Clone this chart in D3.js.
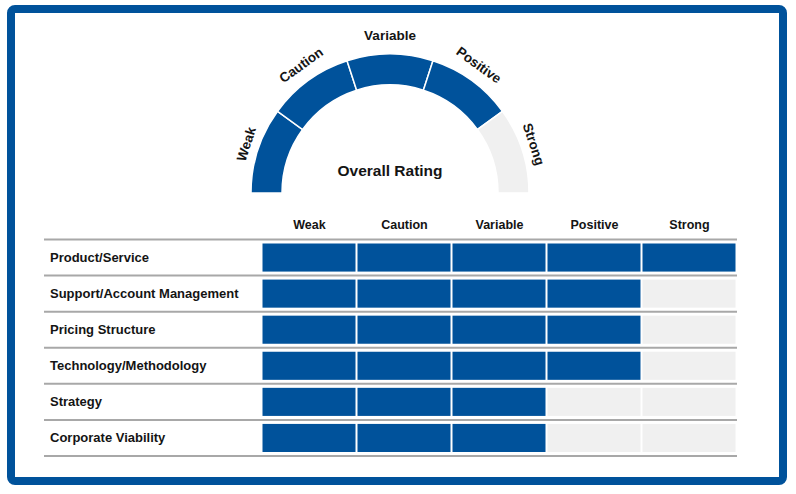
<!DOCTYPE html>
<html>
<head>
<meta charset="utf-8">
<script src="https://cdn.jsdelivr.net/npm/d3@7"></script>
<style>
  html, body { margin: 0; padding: 0; background: #ffffff; }
  svg { display: block; }
  text { font-family: "Liberation Sans", Arial, Helvetica, sans-serif; fill: #141414; }
</style>
</head>
<body>
<svg id="chart" width="796" height="494"></svg>
<script>
const levels = ["Weak", "Caution", "Variable", "Positive", "Strong"];
const categories = ["Product/Service", "Support/Account Management", "Pricing Structure", "Technology/Methodology", "Strategy", "Corporate Viability"];
const ratings = [5, 4, 4, 4, 3, 3];
const overallRating = 4;
const overallTitle = "Overall Rating";

const BLUE = "#00529b";
const GREY = "#f0f0f0";

const svg = d3.select("#chart");

// frame
svg.append("rect")
  .attr("x", 11).attr("y", 9).attr("width", 772).attr("height", 472)
  .attr("rx", 4).attr("ry", 4)
  .attr("fill", "#ffffff").attr("stroke", BLUE).attr("stroke-width", 8);

// ---- gauge ----
const cx = 390, cy = 193, rIn = 108, rOut = 139;
const angle = d3.scaleBand().domain(levels).range([-Math.PI / 2, Math.PI / 2]);
const arc = d3.arc().innerRadius(rIn).outerRadius(rOut);
const g = svg.append("g").attr("transform", `translate(${cx},${cy})`);

g.selectAll("path.seg").data(levels).join("path")
  .attr("class", "seg")
  .attr("d", d => arc({ startAngle: angle(d), endAngle: angle(d) + angle.bandwidth() }))
  .attr("fill", (d, i) => (i + 1) <= overallRating ? BLUE : GREY)
  .attr("stroke", "#ffffff").attr("stroke-width", 1.5);

const rLabX = 151, rLabY = 158;
g.selectAll("text.glab").data(levels).join("text")
  .attr("class", "glab")
  .attr("transform", d => {
    const th = angle(d) + angle.bandwidth() / 2;
    const x = rLabX * Math.sin(th), y = -rLabY * Math.cos(th);
    return `translate(${x},${y}) rotate(${th * 180 / Math.PI})`;
  })
  .attr("text-anchor", "middle").attr("dominant-baseline", "central")
  .attr("font-size", 13.5).attr("font-weight", "bold")
  .text(d => d);

g.append("text")
  .attr("x", 0).attr("y", -23)
  .attr("text-anchor", "middle").attr("dominant-baseline", "central")
  .attr("font-size", 15.5).attr("font-weight", "bold")
  .text(overallTitle);

// ---- table ----
const x = d3.scaleBand().domain(levels).range([262, 737]);
const y = d3.scaleBand().domain(categories).range([239.5, 456]);

svg.selectAll("text.colhead").data(levels).join("text")
  .attr("class", "colhead")
  .attr("x", d => x(d) + x.bandwidth() / 2).attr("y", 225)
  .attr("text-anchor", "middle").attr("dominant-baseline", "central")
  .attr("font-size", 12.5).attr("font-weight", "bold")
  .text(d => d);

const rows = svg.selectAll("g.row").data(categories).join("g")
  .attr("class", "row")
  .attr("transform", d => `translate(0,${y(d)})`);

rows.append("text")
  .attr("x", 50).attr("y", y.bandwidth() / 2)
  .attr("dominant-baseline", "central")
  .attr("font-size", 13).attr("font-weight", "bold")
  .text(d => d);

rows.each(function (c, ri) {
  d3.select(this).selectAll("rect.cell").data(levels).join("rect")
    .attr("class", "cell")
    .attr("x", d => x(d) + 0.5).attr("y", 4)
    .attr("width", x.bandwidth() - 2).attr("height", y.bandwidth() - 8)
    .attr("fill", (d, i) => (i + 1) <= ratings[ri] ? BLUE : GREY);
});

const lineYs = categories.map(c => y(c)).concat([y.range()[1]]);
svg.selectAll("line.sep").data(lineYs).join("line")
  .attr("class", "sep")
  .attr("x1", 44).attr("x2", 737)
  .attr("y1", d => d).attr("y2", d => d)
  .attr("stroke", "#a8a8a8").attr("stroke-width", 2);
</script>
</body>
</html>
